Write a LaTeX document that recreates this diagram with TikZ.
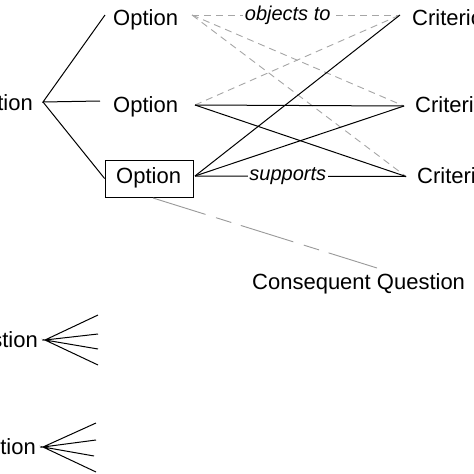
\documentclass[tikz,border=0pt]{standalone}
\usepackage{fontspec}
\setmainfont{Liberation Sans}
\begin{document}
\begin{tikzpicture}[x=1pt,y=-1pt,
  txt/.style={inner sep=0pt,font=\fontsize{22}{26}\selectfont},
  lbl/.style={inner sep=1.5pt,fill=white,font=\fontsize{20}{24}\selectfont\itshape},
  tree/.style={draw=black,line width=1pt},
  obj/.style={draw=black!35,line width=0.9pt,dash pattern=on 7pt off 5pt},
  sup/.style={draw=black,line width=1pt},
  cons/.style={draw=black!40,line width=0.9pt,dash pattern=on 55pt off 11pt on 16pt off 10pt}]
\useasboundingbox (0,0) rectangle (474,474);
% main question
\node[txt,anchor=base east] (q) at (33,110) {Question};
\coordinate (qr) at (43,102);
% options
\node[txt,anchor=base west] (o1) at (113,25.7) {Option};
\node[txt,anchor=base west] (o2) at (113,112) {Option};
\node[txt,anchor=base west] (o3) at (116,183) {Option};
\node[draw=black,line width=0.8pt,inner sep=0pt,minimum width=88pt,minimum height=37pt] (o3box) at (149,178.5) {};
\coordinate (o1l) at (105,15);
\coordinate (o2l) at (100,101);
\coordinate (o1r) at (192,15);
\coordinate (o2r) at (195,105);
\coordinate (o3r) at (195,176);
\coordinate (o3b) at (153,198);
% criteria
\node[txt,anchor=base west] (c1) at (412,25) {Criterion};
\node[txt,anchor=base west] (c2) at (415,112) {Criterion};
\node[txt,anchor=base west] (c3) at (417,183) {Criterion};
\coordinate (c1l) at (400,15);
\coordinate (c2l) at (404,106);
\coordinate (c3l) at (406,176.5);
% consequent
\node[txt,anchor=base west] (cq) at (252,289) {Consequent Question};
\coordinate (cqt) at (377,268);
% tree
\draw[tree] (o1l) -- (qr) -- (o2l);
\draw[tree] (qr) -- (o3box.west);
% objects-to
\draw[obj] (o1r) -- (c2l);
\draw[obj] (o1r) -- (c3l);
\draw[obj] (o2r) -- (c1l);
\draw[obj] (o1r) -- node[lbl,pos=0.46] (lo) {objects to} (c1l);
% supports
\draw[sup] (o2r) -- (c2l);
\draw[sup] (o2r) -- (c3l);
\draw[sup] (o3r) -- (c1l);
\draw[sup] (o3r) -- (c2l);
\draw[sup] (o3r) -- node[lbl,pos=0.44] (ls) {supports} (c3l);
% consequent link
\draw[cons] (o3b) -- (cqt);
% lower questions
\node[txt,anchor=base east] (q2) at (38,347) {Question};
\coordinate (q2r) at (45,340);
\coordinate (q2a) at (98,315);
\coordinate (q2b) at (98,334);
\coordinate (q2c) at (98,349);
\coordinate (q2d) at (98,365);
\draw[tree] (q2a) -- (q2r) -- (q2b) (q2c) -- (q2r) -- (q2d);
\node[txt,anchor=base east] (q3) at (36,454) {Question};
\coordinate (q3r) at (43,447);
\coordinate (q3a) at (96,423);
\coordinate (q3b) at (96,440);
\coordinate (q3c) at (94,456);
\coordinate (q3d) at (96,472);
\draw[tree] (q3a) -- (q3r) -- (q3b) (q3c) -- (q3r) -- (q3d);
\end{tikzpicture}
\end{document}
